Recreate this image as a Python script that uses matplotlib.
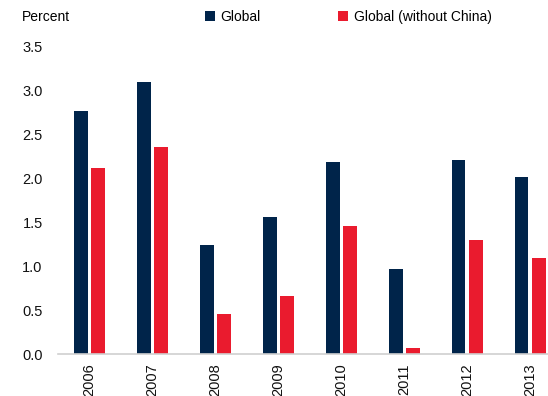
import matplotlib.pyplot as plt
import numpy as np

plt.rcParams['font.family'] = ['Liberation Sans', 'DejaVu Sans']

# data
years = ['2006', '2007', '2008', '2009', '2010', '2011', '2012', '2013']
global_vals = [2.76, 3.09, 1.24, 1.56, 2.18, 0.97, 2.21, 2.01]
global_ex_china = [2.11, 2.35, 0.46, 0.66, 1.45, 0.07, 1.30, 1.09]

navy = '#00244a'
red = '#ea1b2e'

fig = plt.figure(figsize=(5.48, 3.96), dpi=100)
ax = fig.add_axes([58 / 548, 1 - 354 / 396, 490 / 548, 308 / 396])

x = np.arange(len(years))
w = 0.22
ax.bar(x - 0.14, global_vals, w, color=navy, label='Global')
ax.bar(x + 0.14, global_ex_china, w, color=red, label='Global (without China)')

ax.set_xlim(-0.5, 7.28)
ax.set_ylim(0, 3.5)
ax.set_yticks(np.arange(0, 3.51, 0.5))
ax.set_yticklabels([f'{v:.1f}' for v in np.arange(0, 3.51, 0.5)])
ax.set_xticks(x)
ax.set_xticklabels(years, rotation=90)

for s in ['top', 'right', 'left']:
    ax.spines[s].set_visible(False)
ax.spines['bottom'].set_color('#d0d0d0')
ax.spines['bottom'].set_linewidth(1.2)
ax.tick_params(axis='both', length=0, labelsize=10.5, colors='#111111')
ax.tick_params(axis='y', pad=11)
ax.tick_params(axis='x', pad=7)

fig.text(22 / 548, 1 - 17 / 396, 'Percent', fontsize=10, va='center', ha='left')

fig.legend(loc='center left', bbox_to_anchor=(205 / 548, 1 - 17 / 396), ncol=2,
           frameon=False, fontsize=10, handlelength=0.7, handleheight=0.7,
           handletextpad=0.4, columnspacing=5.6, borderaxespad=0, borderpad=0)

fig.savefig('out.png', dpi=100)
